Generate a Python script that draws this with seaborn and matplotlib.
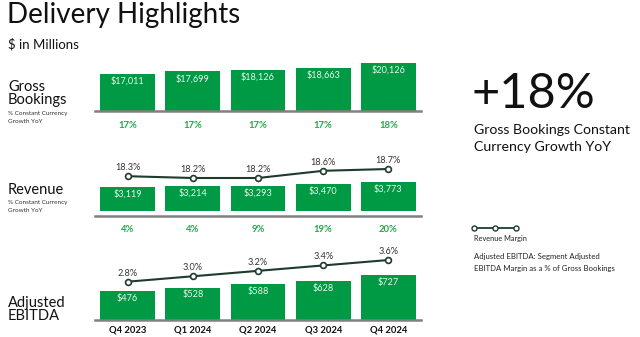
import numpy as np
import matplotlib
matplotlib.use("Agg")
import matplotlib.pyplot as plt
import seaborn as sns

quarters = ["Q4 2023", "Q1 2024", "Q2 2024", "Q3 2024", "Q4 2024"]
gross_bookings = [17011, 17699, 18126, 18663, 20126]
gross_growth = ["17%", "17%", "17%", "17%", "18%"]
revenue = [3119, 3214, 3293, 3470, 3773]
revenue_growth = ["4%", "4%", "9%", "19%", "20%"]
revenue_margin = [18.3, 18.2, 18.2, 18.6, 18.7]
ebitda = [476, 528, 588, 628, 727]
ebitda_margin = [2.8, 3.0, 3.2, 3.4, 3.6]

sns.set_style("white")
plt.rcParams['font.family'] = ['Lato', 'DejaVu Sans']

W, H = 640, 337
GREEN = "#009A44"
GROWTH = "#22A84A"
LINE = "#1F3B2B"
BASE = "#808080"

fig = plt.figure(figsize=(W / 100, H / 100), dpi=100)
fig.patch.set_facecolor("white")


def ftext(x, y, s, **kw):
    return fig.text(x / W, 1 - y / H, s, **kw)


def panel(bottom_px, height_px, ylim):
    ax = fig.add_axes([95 / W, 1 - bottom_px / H, 326 / W, height_px / H])
    ax.set_facecolor("none")
    ax.set_ylim(*ylim)
    return ax


def draw_bars(ax, values, fmt_vals):
    sns.barplot(x=quarters, y=values, ax=ax, color=GREEN, saturation=1,
                width=0.84, edgecolor="none")
    ax.set_xlim(-0.5, 4.5)
    for s in ["top", "right", "left"]:
        ax.spines[s].set_visible(False)
    ax.spines["bottom"].set_color(BASE)
    ax.spines["bottom"].set_linewidth(1.8)
    ax.set_yticks([])
    ax.set_ylabel("")
    ax.set_xlabel("")
    ax.tick_params(axis="x", length=0)
    for i, (v, t) in enumerate(zip(values, fmt_vals)):
        ax.annotate(t, xy=(i, v), xytext=(0, -5.2), textcoords="offset points",
                    ha="center", va="center", color="#EAF6EE", fontsize=6.6)


def draw_growth(ax, labels, y_px_offset):
    for i, t in enumerate(labels):
        ax.annotate(t, xy=(i, 0), xycoords=("data", "axes fraction"),
                    xytext=(0, -y_px_offset * 0.72), textcoords="offset points",
                    ha="center", va="center", color=GROWTH, fontsize=6.8,
                    fontweight="bold")


def draw_margin(ax, values, ylim):
    ax2 = ax.twinx()
    ax2.set_ylim(*ylim)
    sns.lineplot(x=np.arange(len(values)), y=values, ax=ax2, color=LINE,
                 linewidth=1.5, marker="o", markersize=4.2,
                 markerfacecolor="white", markeredgecolor=LINE,
                 markeredgewidth=1.2, clip_on=False)
    for i, v in enumerate(values):
        ax2.annotate(f"{v:.1f}%", xy=(i, v), xytext=(0, 6.2),
                     textcoords="offset points", ha="center", va="center",
                     color="#333333", fontsize=6.6)
    ax2.set_axis_off()
    ax2.set_xlim(-0.5, 4.5)


# Gross bookings panel
ax1 = panel(111, 56, (6500, 6500 + 56 * 283))
draw_bars(ax1, gross_bookings, [f"${v:,}".replace(",", "") if v < 20000 and False else f"${v:,}" for v in gross_bookings])
ax1.set_xticklabels([])
draw_growth(ax1, gross_growth, 15)

# Revenue panel
ax2 = panel(216, 62, (-700, -700 + 62 * 131))
draw_bars(ax2, revenue, [f"${v:,}" for v in revenue])
ax2.set_xticklabels([])
draw_growth(ax2, revenue_growth, 14)
draw_margin(ax2, revenue_margin, (18.2 - 38 / 18.0, 18.2 - 38 / 18.0 + 62 / 18.0))

# Adjusted EBITDA panel
ax3 = panel(320, 72, (0, 72 * 16.3))
draw_bars(ax3, ebitda, [f"${v:,}" for v in ebitda])
ax3.tick_params(axis="x", pad=4)
for lab in ax3.get_xticklabels():
    lab.set_fontweight("bold")
    lab.set_fontsize(6.8)
    lab.set_color("#111111")
draw_margin(ax3, ebitda_margin, (2.8 - 38.3 / 27.1, 2.8 - 38.3 / 27.1 + 72 / 27.1))

# Titles and labels
ftext(7, 22.7, "Delivery Highlights", fontsize=20, va="baseline", ha="left", color="#111111")
ftext(8, 48.3, "$ in Millions", fontsize=9.5, va="baseline", ha="left", color="#111111")

ftext(8, 90.7, "Gross", fontsize=10.5, va="baseline", color="#111111")
ftext(8, 104.3, "Bookings", fontsize=10.5, va="baseline", color="#111111")
ftext(8, 113.5, "% Constant Currency", fontsize=4.6, va="center", color="#333333")
ftext(8, 121, "Growth YoY", fontsize=4.6, va="center", color="#333333")

ftext(8, 194.5, "Revenue", fontsize=10.5, va="baseline", color="#111111")
ftext(8, 202.7, "% Constant Currency", fontsize=4.6, va="center", color="#333333")
ftext(8, 210.7, "Growth YoY", fontsize=4.6, va="center", color="#333333")

ftext(8, 306.5, "Adjusted", fontsize=10.5, va="baseline", color="#111111")
ftext(8, 320.5, "EBITDA", fontsize=10.5, va="baseline", color="#111111")

ftext(472, 108, "+18%", fontsize=35, va="baseline", color="#111111")
ftext(474, 134, "Gross Bookings Constant", fontsize=10.2, va="baseline", color="#111111")
ftext(474, 151, "Currency Growth YoY", fontsize=10.2, va="baseline", color="#111111")

# Legend
leg_ax = fig.add_axes([470 / W, 1 - 233 / H, 50 / W, 10 / H])
leg_ax.set_xlim(0, 50)
leg_ax.set_ylim(0, 10)
leg_ax.plot([4, 25, 46], [5, 5, 5], color=LINE, linewidth=1.3, marker="o",
            markersize=3.6, markerfacecolor="white", markeredgecolor=LINE,
            markeredgewidth=1.0)
leg_ax.set_axis_off()
ftext(474, 238.5, "Revenue Margin", fontsize=5.3, va="center", color="#222222")
ftext(474, 256.5, "Adjusted EBITDA: Segment Adjusted", fontsize=5.6, va="center", color="#222222")
ftext(474, 268.3, "EBITDA Margin as a % of Gross Bookings", fontsize=5.6, va="center", color="#222222")

fig.savefig("out.png", dpi=100, facecolor="white")
